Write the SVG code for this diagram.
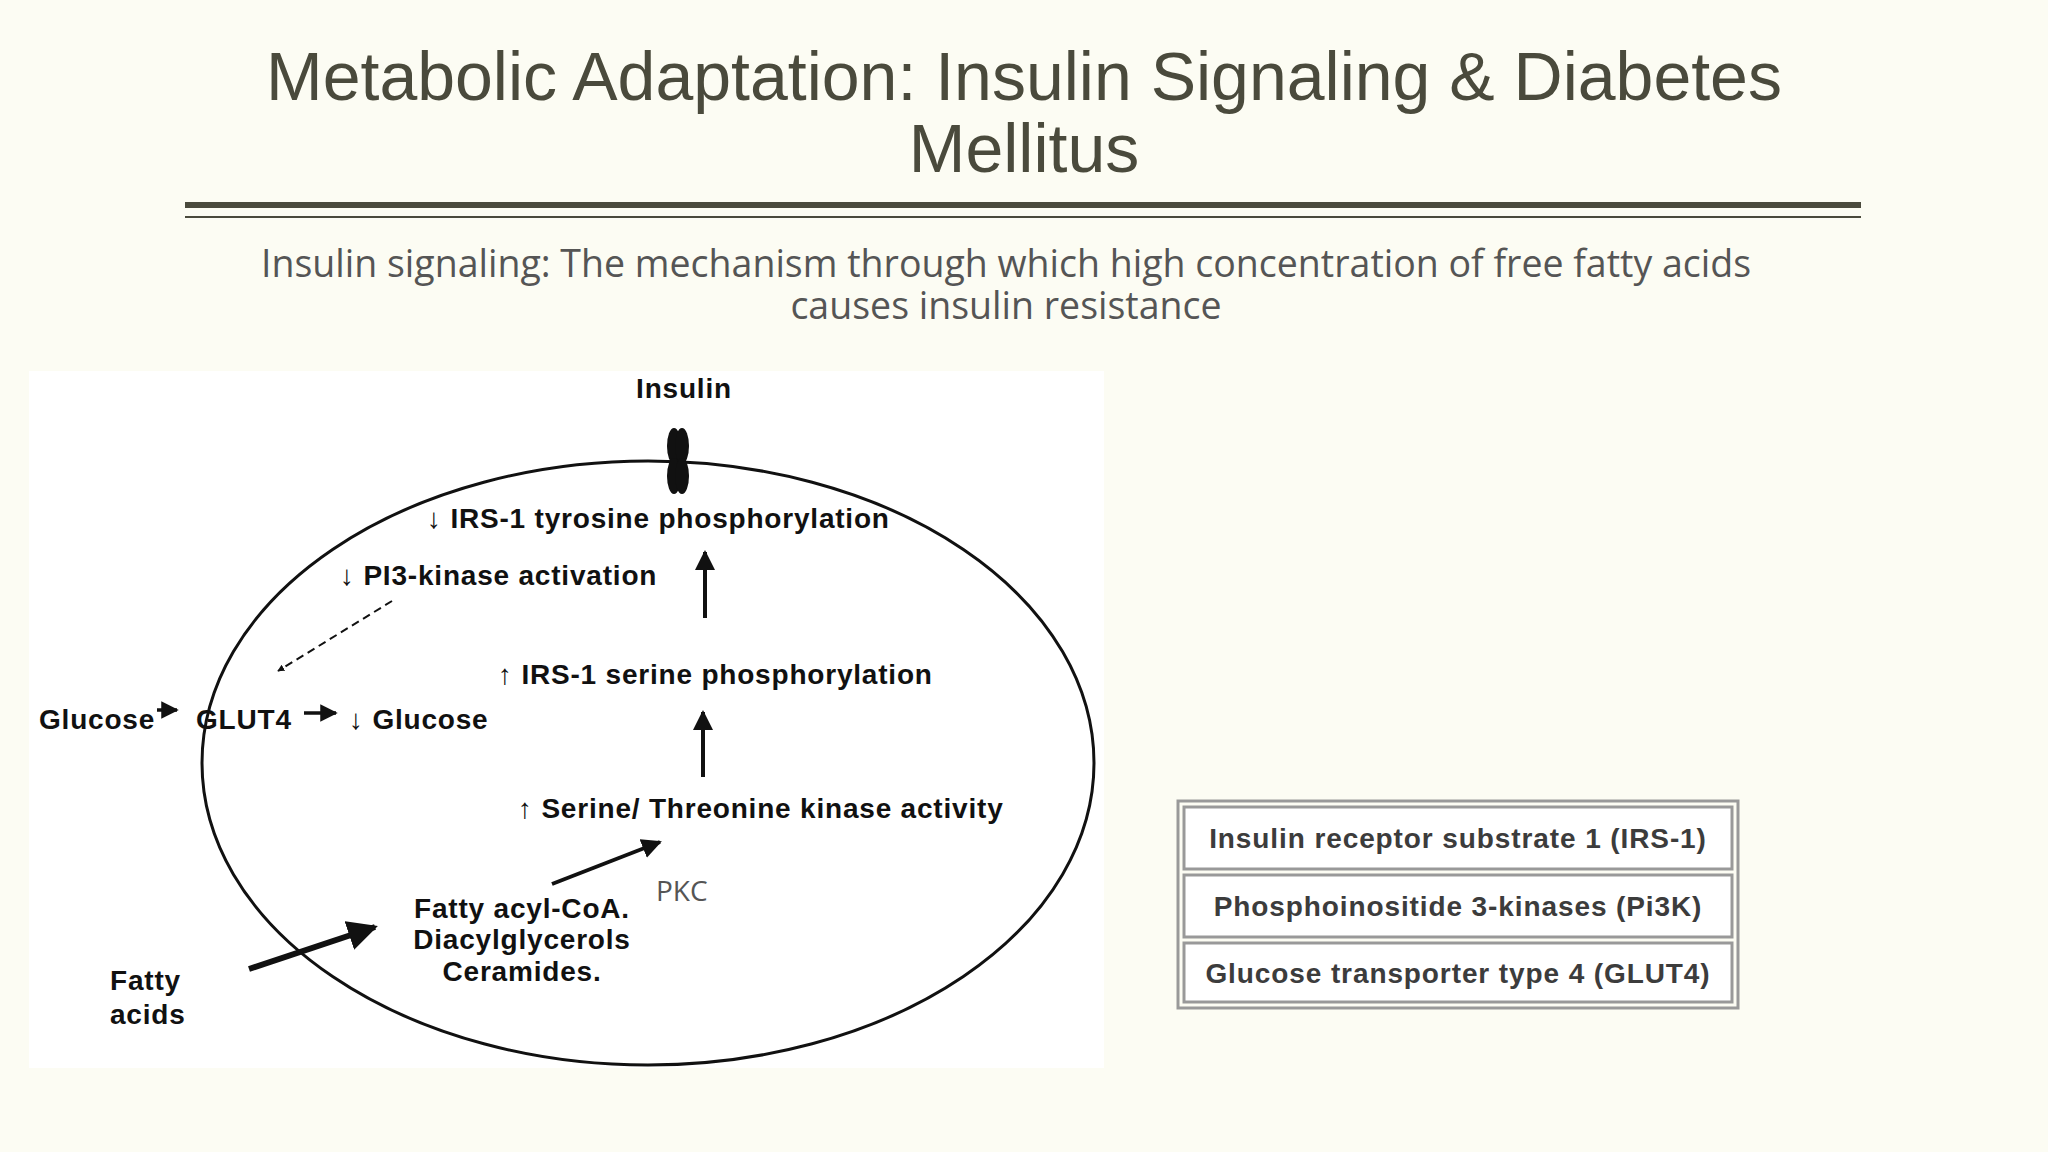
<svg xmlns="http://www.w3.org/2000/svg" width="2048" height="1152" viewBox="0 0 2048 1152">
<style>
.t{font-family:"Liberation Sans",Arial,sans-serif;font-weight:bold;font-size:28px;letter-spacing:0.8px;fill:#111}
.c{text-anchor:middle}
.tb{font-family:"Liberation Sans",Arial,sans-serif;font-weight:bold;font-size:28px;letter-spacing:0.9px;fill:#3c3c3c;text-anchor:middle}
</style>
<defs>
<marker id="ah" viewBox="0 0 10 10" refX="9" refY="5" markerWidth="5" markerHeight="5" orient="auto"><path d="M0,0L10,5L0,10z" fill="#111"/></marker>
<marker id="ah2" viewBox="0 0 10 10" refX="9" refY="5" markerWidth="3.5" markerHeight="3.5" orient="auto"><path d="M0,0L10,5L0,10z" fill="#111"/></marker>
</defs>
<rect width="2048" height="1152" fill="#fcfcf3"/>
<g id="title" font-family="Liberation Sans,Arial,sans-serif" font-size="68" fill="#4a4a3c" text-anchor="middle">
<text x="1024" y="100">Metabolic Adaptation: Insulin Signaling &amp; Diabetes</text>
<text x="1024" y="172">Mellitus</text>
</g>
<rect x="185" y="202" width="1676" height="6" fill="#4a4a3c"/>
<rect x="185" y="216" width="1676" height="2" fill="#4a4a3c"/>
<g id="subtitle" font-family="Open Sans,sans-serif" font-size="37.5" fill="#555" text-anchor="middle">
<text x="1006" y="277">Insulin signaling: The mechanism through which high concentration of free fatty acids</text>
<text x="1006" y="319">causes insulin resistance</text>
</g>
<rect x="29" y="371" width="1075" height="697" fill="#fff"/>
<g id="cell"><ellipse cx="648" cy="763" rx="446" ry="302" fill="none" stroke="#111" stroke-width="3"/></g>
<g id="receptor"><ellipse cx="674" cy="446" rx="7" ry="18" fill="#111"/><ellipse cx="682" cy="446" rx="7" ry="18" fill="#111"/><ellipse cx="674" cy="476" rx="7" ry="18" fill="#111"/><ellipse cx="682" cy="476" rx="7" ry="18" fill="#111"/></g>
<g id="labels">
<text class="t c" x="684" y="398">Insulin</text>
<text class="t" x="427" y="528">↓ IRS-1 tyrosine phosphorylation</text>
<text class="t" x="340" y="585">↓ PI3-kinase activation</text>
<text class="t" x="498" y="684">↑ IRS-1 serine phosphorylation</text>
<text class="t" x="518" y="818">↑ Serine/ Threonine kinase activity</text>
<text class="t" x="39" y="729">Glucose</text>
<text class="t" x="196" y="729">GLUT4</text>
<text class="t" x="349" y="729">↓ Glucose</text>
<text x="656" y="901" font-family="Open Sans,sans-serif" font-size="28" fill="#555">PKC</text>
<text class="t c" x="522" y="918" font-size="25">Fatty acyl-CoA.</text>
<text class="t c" x="522" y="949" font-size="25">Diacylglycerols</text>
<text class="t c" x="522" y="981" font-size="25">Ceramides.</text>
<text class="t" x="110" y="990">Fatty</text>
<text class="t" x="110" y="1024">acids</text>
</g>
<g id="connectors" stroke="#111" fill="none">
<line x1="705" y1="618" x2="705" y2="552" stroke-width="4" marker-end="url(#ah)"/>
<line x1="703" y1="777" x2="703" y2="712" stroke-width="4" marker-end="url(#ah)"/>
<line x1="392" y1="601" x2="278" y2="671" stroke-width="2" stroke-dasharray="8,5" marker-end="url(#ah2)"/>
<line x1="157" y1="710" x2="177" y2="710" stroke-width="3.5" marker-end="url(#ah)"/>
<line x1="304" y1="713" x2="336" y2="713" stroke-width="3.5" marker-end="url(#ah)"/>
<line x1="552" y1="884" x2="660" y2="842" stroke-width="4" marker-end="url(#ah)"/>
<line x1="249" y1="969" x2="375" y2="927" stroke-width="6" marker-end="url(#ah)"/>
</g>
<g id="table" fill="#fff" stroke="#999" stroke-width="3">
<rect x="1178" y="801" width="560" height="207" fill="none"/>
<rect x="1184" y="807" width="548" height="62"/>
<rect x="1184" y="875" width="548" height="62"/>
<rect x="1184" y="943" width="548" height="59"/>
</g>
<g id="table-text">
<text class="tb" x="1458" y="848">Insulin receptor substrate 1 (IRS-1)</text>
<text class="tb" x="1458" y="916">Phosphoinositide 3-kinases (Pi3K)</text>
<text class="tb" x="1458" y="983">Glucose transporter type 4 (GLUT4)</text>
</g>
</svg>
